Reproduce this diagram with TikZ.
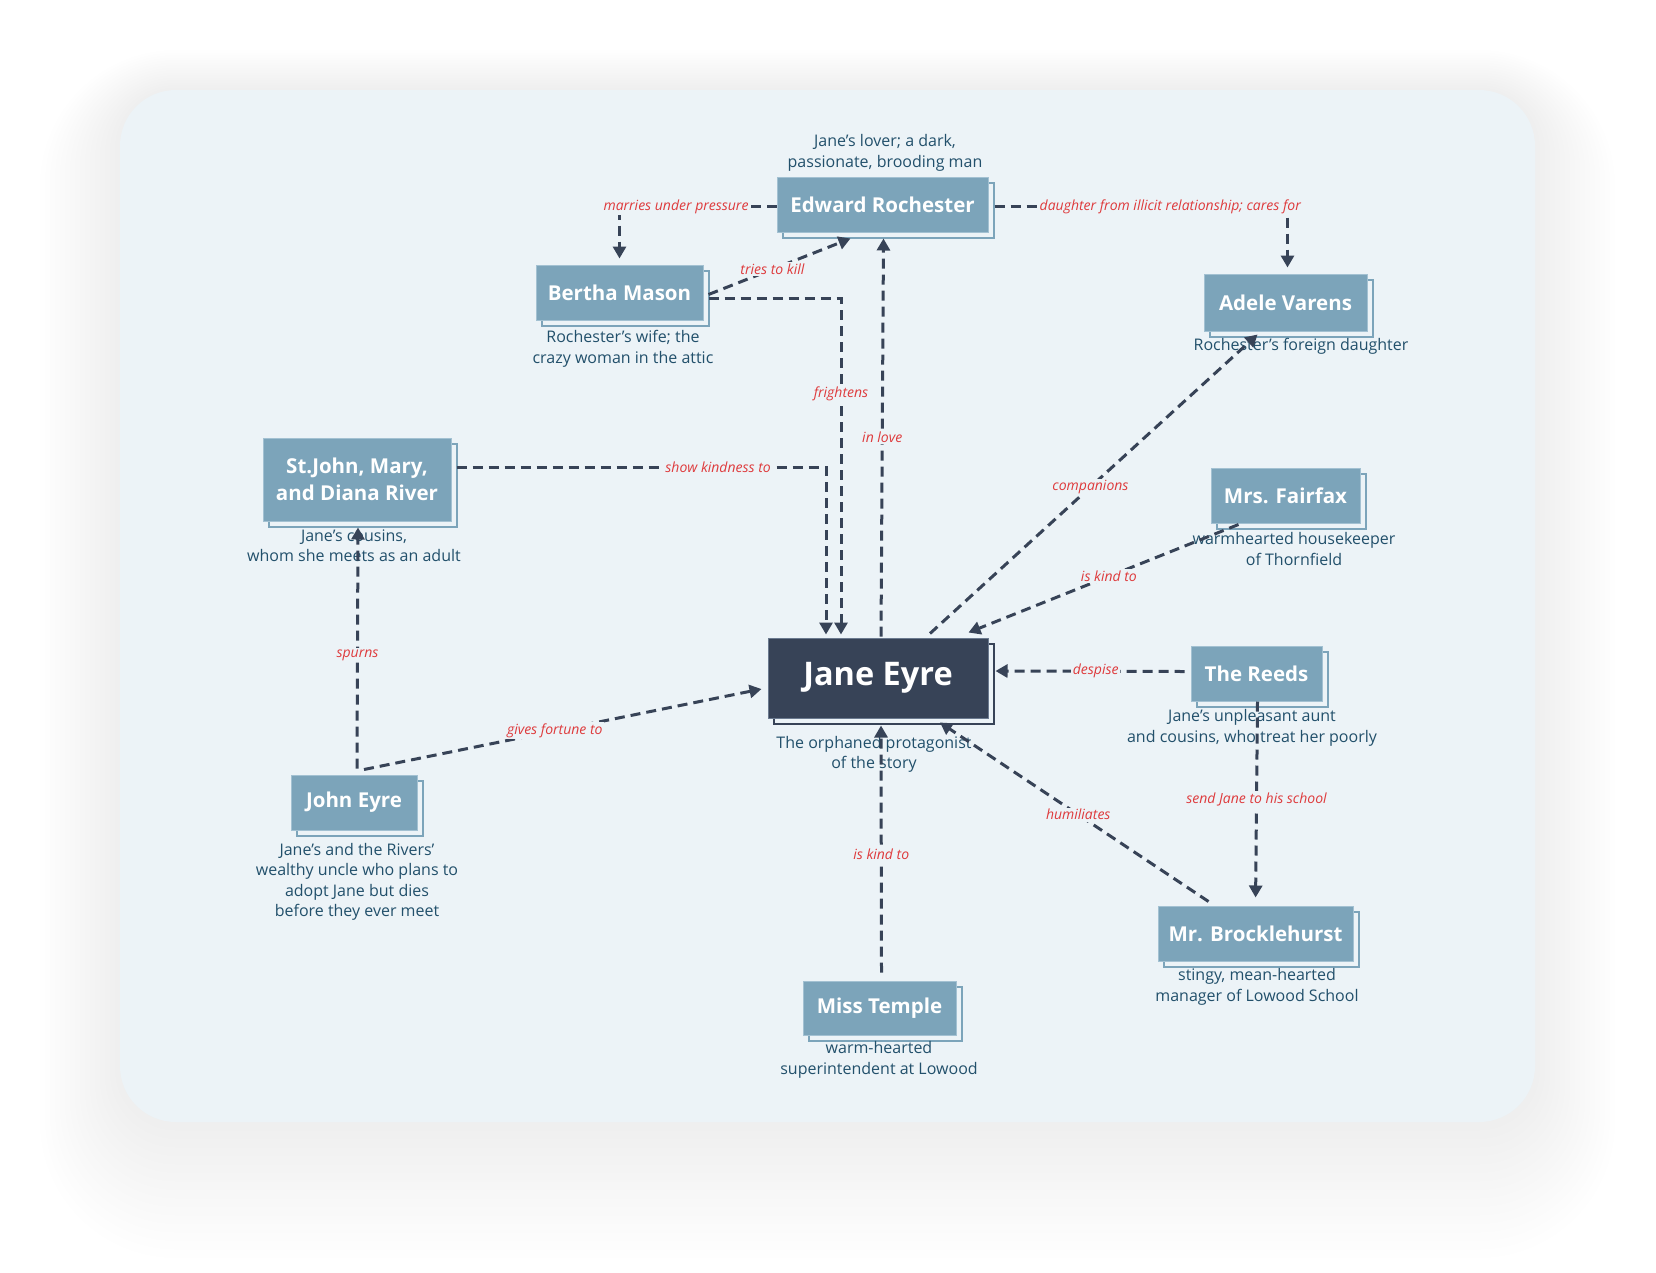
\documentclass[tikz,border=0pt]{standalone}
\usepackage{fontspec}
\setmainfont{Open Sans}
\usetikzlibrary{arrows.meta,calc,shadows}
\definecolor{cardbg}{HTML}{ECF3F7}
\definecolor{boxfill}{HTML}{7CA4BA}
\definecolor{boxline}{HTML}{A3C1D2}
\definecolor{navy}{HTML}{374357}
\definecolor{navyline}{HTML}{6B7A8F}
\definecolor{lblred}{HTML}{DE3A3C}
\definecolor{desc}{HTML}{22506B}
\begin{document}
\begin{tikzpicture}[x=1pt,y=-1pt,
  charbox/.style={rectangle, fill=boxfill, draw=boxline, line width=1pt, text=white,
    font=\fontsize{20.5}{27}\selectfont\bfseries, inner sep=0pt, align=center,
    general shadow={shadow xshift=6pt, shadow yshift=-6pt, fill=cardbg, draw=boxfill, line width=1.6pt}},
  mainbox/.style={rectangle, fill=navy, draw=navyline, line width=1pt, text=white,
    font=\fontsize{32.5}{38}\selectfont\bfseries, inner sep=0pt,
    general shadow={shadow xshift=6pt, shadow yshift=-6pt, fill=cardbg, draw=navy, line width=1.8pt}},
  desctext/.style={text=desc, font=\fontsize{16}{20.5}\selectfont, align=center, inner sep=0pt},
  lbl/.style={text=lblred, font=\fontsize{14}{16}\selectfont\itshape, fill=cardbg, inner sep=1.5pt},
  link/.style={draw=navy, line width=3pt, dash pattern=on 10pt off 6pt,
    -{Triangle[width=13pt,length=12pt]}}
]
\useasboundingbox (0,0) rectangle (1656,1272);
\fill[white] (0,0) rectangle (1656,1272);
% card shadow
\foreach \i in {1,...,16} {
  \fill[black, opacity=0.0028, rounded corners={56pt+\i*5pt}]
    ({120-\i*5},{90-\i*5+\i*2.5}) rectangle ({1535+\i*5},{1122+\i*5+\i*3.5});
}
\fill[cardbg, rounded corners=56pt] (120,90) rectangle (1535,1122);

% character boxes
\node[charbox, minimum width=211pt, minimum height=55pt] (Edward) at (882.5,204.5) {Edward Rochester};
\node[charbox, minimum width=167pt, minimum height=55pt] (Bertha) at (619.5,292.5) {Bertha Mason};
\node[charbox, minimum width=163pt, minimum height=57pt] (Adele) at (1285.5,302.5) {Adele Varens};
\node[charbox, minimum width=188pt, minimum height=83pt] (StJohn) at (357,479.5) {St.John, Mary,\\and Diana River};
\node[charbox, minimum width=149pt, minimum height=55pt] (Fairfax) at (1285.5,495.5) {Mrs. Fairfax};
\node[mainbox, minimum width=220pt, minimum height=80pt] (Jane) at (878,678) {Jane Eyre};
\node[charbox, minimum width=131pt, minimum height=55pt] (Reeds) at (1256.5,673.5) {The Reeds};
\node[charbox, minimum width=126pt, minimum height=55pt] (John) at (354,802.5) {John Eyre};
\node[charbox, minimum width=195pt, minimum height=55pt] (Brock) at (1255.5,933.5) {Mr. Brocklehurst};
\node[charbox, minimum width=153pt, minimum height=54pt] (Temple) at (879.5,1008) {Miss Temple};

% descriptions
\node[desctext] (dEdward) at (885,153) {Jane's lover; a dark,\\passionate, brooding man};
\node[desctext] (dBertha) at (623,349) {Rochester's wife; the\\crazy woman in the attic};
\node[desctext] (dAdele) at (1301,346) {Rochester's foreign daughter};
\node[desctext] (dStJohn) at (354,545.5) {Jane's cousins,\\whom she meets as an adult};
\node[desctext] (dFairfax) at (1294,549) {warmhearted housekeeper\\of Thornfield};
\node[desctext] (dJane) at (874,754.5) {The orphaned protagonist\\of the story};
\node[desctext] (dReeds) at (1252,728) {Jane's unpleasant aunt\\and cousins, who treat her poorly};
\node[desctext] (dJohn) at (357,882) {Jane's and the Rivers'\\wealthy uncle who plans to\\adopt Jane but dies\\before they ever meet};
\node[desctext] (dBrock) at (1257,987) {stingy, mean-hearted\\manager of Lowood School};
\node[desctext] (dTemple) at (879,1060) {warm-hearted\\superintendent at Lowood};

% connectors
\draw[link, shorten >=6pt] ($(Edward.west)+(0,2)$) -| (Bertha.north)
  node[lbl, pos=0.32] {marries under pressure};
\draw[link, shorten >=6pt] ($(Edward.east)+(6,2)$) -| ($(Adele.north)+(2,0)$)
  node[lbl, pos=0.3] {daughter from illicit relationship; cares for};
\draw[link] ($(Bertha.east)+(5,2)$) -- ($(Edward.south)+(-32,6)$)
  node[lbl, pos=0.45] {tries to kill};
\draw[link, shorten >=3pt] ($(Bertha.east)+(5,6)$) -| ($(Jane.north)+(-37,0)$)
  node[lbl, pos=0.64] {frightens};
\draw[link, shorten >=3pt] ($(StJohn.east)+(5,-12)$) -| ($(Jane.north)+(-52,0)$)
  node[lbl, pos=0.354] {show kindness to};
\draw[link] ($(Jane.north)+(3,-1)$) -- ($(Edward.south)+(1,6)$)
  node[lbl, pos=0.5] {in love};
\draw[link] ($(Jane.north)+(52,-4)$) -- ($(Adele.south)+(-28,3)$)
  node[lbl, pos=0.49] {companions};
\draw[link] ($(Fairfax.south)+(-47,1)$) -- ($(Jane.north east)+(-20,-5)$)
  node[lbl, pos=0.48] {is kind to};
\draw[link] ($(Reeds.west)+(-6,-2)$) -- ($(Jane.east)+(7,-7)$)
  node[lbl, pos=0.47] {despise};
\draw[link, shorten >=8pt] ($(Reeds.south)+(1,0)$) -- (Brock.north)
  node[lbl, pos=0.48] {send Jane to his school};
\draw[link] ($(Brock.north)+(-47,-4)$) -- ($(Jane.south)+(62,4)$)
  node[lbl, pos=0.485] {humiliates};
\draw[link] ($(Temple.north)+(2,-8)$) -- ($(Jane.south)+(3,7)$)
  node[lbl, pos=0.48] {is kind to};
\draw[link] ($(John.north)+(3,-6)$) -- ($(StJohn.south)+(1,6)$)
  node[lbl, pos=0.47] {spurns};
\draw[link] ($(John.north)+(10,-5)$) -- ($(Jane.west)+(-6,11)$)
  node[lbl, pos=0.48] {gives fortune to};
\end{tikzpicture}
\end{document}
